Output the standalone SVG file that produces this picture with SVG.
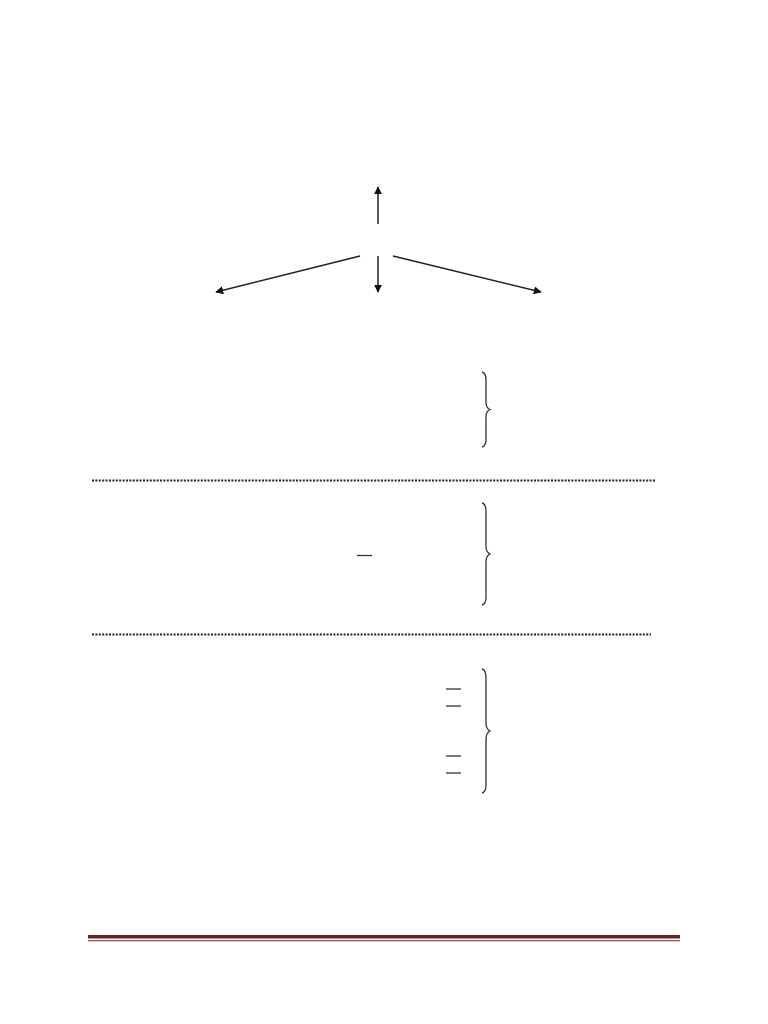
<svg xmlns="http://www.w3.org/2000/svg" width="768" height="1024" viewBox="0 0 768 1024">
<style>
.ln{stroke:#222;stroke-width:1.5;fill:none}
.br{stroke:#333;stroke-width:1.3;fill:none}
.dot{stroke:#222;stroke-width:2.2;stroke-dasharray:2 1.4}
.dash{stroke:#333;stroke-width:1.3}
</style>
<defs>
<marker id="ah" viewBox="0 0 10 10" refX="9" refY="5" markerWidth="8" markerHeight="8" markerUnits="userSpaceOnUse" orient="auto">
<path d="M0,0 L10,5 L0,10 z" fill="#111"/>
</marker>
</defs>
<rect width="768" height="1024" fill="#fff"/>
<g id="connectors">
<line class="ln" x1="378" y1="224" x2="378" y2="187" marker-end="url(#ah)"/>
<line class="ln" x1="378" y1="256" x2="378" y2="292" marker-end="url(#ah)"/>
<line class="ln" x1="360" y1="256" x2="216" y2="292" marker-end="url(#ah)"/>
<line class="ln" x1="393" y1="256" x2="541" y2="292" marker-end="url(#ah)"/>
</g>
<g id="brace1">
<path class="br" d="M482,372 Q486,373 486,380 L486,402 Q486,408 490,409.5 Q486,411 486,417 L486,440 Q486,446 482,447"/>
</g>
<line id="sep1" class="dot" x1="92" y1="480.5" x2="655" y2="480.5"/>
<g id="brace2">
<path class="br" d="M482,503 Q486,504 486,511 L486,546 Q486,552 490,554 Q486,556 486,562 L486,597 Q486,604 482,605"/>
<line class="dash" x1="357" y1="555.5" x2="372" y2="555.5"/>
</g>
<line id="sep2" class="dot" x1="92" y1="634.5" x2="651" y2="634.5"/>
<g id="brace3">
<path class="br" d="M482,669 Q486,670 486,678 L486,723 Q486,729 490,731 Q486,733 486,739 L486,785 Q486,792 482,793"/>
<line class="dash" x1="446" y1="689" x2="461" y2="689"/>
<line class="dash" x1="446" y1="706" x2="461" y2="706"/>
<line class="dash" x1="446" y1="756" x2="461" y2="756"/>
<line class="dash" x1="446" y1="773" x2="461" y2="773"/>
</g>
<g id="footer">
<rect x="88" y="935" width="592" height="3.5" fill="#6b2424"/>
<rect x="88" y="940" width="592" height="1.3" fill="#a05050"/>
</g>
</svg>
